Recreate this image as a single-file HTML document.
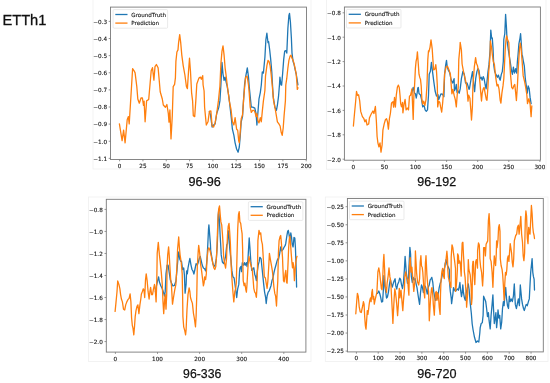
<!DOCTYPE html>
<html><head><meta charset="utf-8"><style>
html,body{margin:0;padding:0;background:#fff;}
body{width:550px;height:383px;overflow:hidden;position:relative;}
svg{position:absolute;left:0;top:0;filter:blur(0.3px);}
.tk{font-family:"DejaVu Sans",sans-serif;font-size:5.70px;fill:#111;stroke:#111;stroke-width:0.12px;}
.lg{font-family:"DejaVu Sans",sans-serif;font-size:5.60px;fill:#111;stroke:#111;stroke-width:0.1px;}
.cap{font-family:"Liberation Sans",sans-serif;font-size:13px;fill:#111;stroke:#111;stroke-width:0.25px;}
</style></head><body>
<svg width="550" height="383" viewBox="0 0 550 383">
<text x="2.4" y="25.4" textLength="44" lengthAdjust="spacingAndGlyphs" style="font-family:'Liberation Sans',sans-serif;font-size:15.2px;fill:#111;stroke:#111;stroke-width:0.3px">ETTh1</text>
<rect x="93" y="-2" width="218" height="171" fill="none" stroke="#efefef" stroke-width="0.8"/>
<clipPath id="c0"><rect x="110.5" y="7.1" width="196.0" height="152.4"/></clipPath>
<g clip-path="url(#c0)" fill="none" stroke-width="1.3" stroke-linejoin="round" stroke-linecap="round">
<polyline stroke="#1f77b4" points="209.4,111.4 210.5,115.0 212.1,127.0 213.6,125.0 215.1,124.0 216.7,113.5 218.8,107.2 219.9,100.9 220.9,85.0 222.0,62.5 223.0,74.0 224.1,80.3 225.1,77.2 226.2,82.4 227.2,86.3 228.9,96.7 230.3,109.3 231.4,118.7 232.4,129.2 233.9,135.4 235.1,142.8 236.6,149.0 238.1,152.2 239.3,147.0 240.2,136.5 241.2,121.8 242.5,116.6 243.5,100.9 244.6,84.2 245.6,77.2 247.3,67.8 248.5,77.0 249.2,86.3 251.3,107.2 252.7,107.2 254.8,108.2 256.1,114.0 256.9,125.0 258.0,111.4 259.0,98.8 260.3,92.6 261.3,85.0 262.3,72.0 263.4,73.0 264.9,57.3 265.9,39.5 266.9,33.2 268.0,42.7 268.6,41.6 269.7,50.0 270.7,59.4 271.8,72.0 272.2,80.0 273.2,96.7 274.9,107.2 276.4,110.3 277.4,105.1 278.5,96.7 279.5,84.2 279.9,77.2 281.0,85.0 281.6,85.2 282.6,74.0 283.7,59.4 284.7,51.0 285.8,50.6 286.8,53.1 287.9,28.0 288.9,15.5 289.5,13.4 290.4,21.7 291.4,38.5 292.0,53.1 293.1,61.5 294.1,64.6 295.2,69.9 296.2,74.0 297.2,80.0 297.9,84.8"/>
<polyline stroke="#ff7f0e" points="119.4,123.9 122.1,140.7 123.6,130.2 125.1,142.8 127.2,119.7 128.4,116.6 129.2,123.9 130.9,96.7 132.6,68.7 134.1,70.8 135.1,72.9 136.8,86.5 137.8,99.0 139.3,103.2 141.0,98.0 142.4,98.0 143.5,105.3 144.1,101.1 145.1,121.8 146.6,100.9 148.7,99.5 149.7,88.0 151.2,70.8 152.5,67.7 153.9,80.2 155.0,66.6 156.4,64.5 158.1,67.7 159.2,80.0 160.2,91.7 162.3,99.0 163.3,105.0 165.4,107.3 166.9,104.5 168.3,113.3 169.0,122.2 169.9,110.0 171.0,138.9 172.3,115.6 173.2,86.7 174.6,84.4 175.4,77.8 175.9,61.4 176.9,52.0 178.0,49.9 178.6,42.6 179.7,34.6 180.7,42.6 181.8,55.1 183.2,65.6 184.9,75.0 186.4,86.5 187.4,88.6 188.5,71.8 189.5,58.2 190.5,71.8 191.6,92.8 192.6,100.9 193.3,115.6 194.7,116.6 195.8,100.9 196.8,84.0 198.9,78.1 200.4,77.1 201.4,79.2 202.7,75.6 203.1,85.0 204.1,91.0 204.6,107.2 206.3,125.0 208.0,121.8 209.4,111.4 210.9,111.0 212.1,126.0 213.6,127.1 215.1,122.9 216.7,113.5 218.4,100.9 219.9,86.3 220.9,63.6 222.0,51.0 223.0,45.8 224.1,55.2 225.1,67.8 226.2,76.1 227.2,85.0 229.3,100.9 231.0,109.3 232.4,121.8 233.9,125.0 235.1,117.7 236.6,129.2 237.7,130.2 238.7,140.7 239.3,142.8 240.2,132.3 241.2,118.7 242.5,115.0 243.5,100.9 244.6,88.0 245.6,77.2 247.1,76.1 248.5,85.0 249.2,92.6 250.2,107.2 251.3,112.4 252.7,110.3 254.0,110.3 255.0,112.4 256.1,116.6 256.9,113.5 258.0,120.8 259.0,122.9 260.3,117.7 261.3,121.8 262.3,111.4 263.4,100.9 264.9,90.5 265.5,76.1 266.9,65.7 268.0,60.4 269.0,61.5 270.1,65.7 271.1,74.0 272.2,85.0 273.6,100.9 275.3,109.3 277.4,121.8 278.9,123.9 280.1,126.0 281.2,132.3 282.2,135.4 283.2,128.0 284.1,115.6 285.4,100.9 285.8,85.0 286.8,78.2 287.9,67.8 288.9,60.4 290.0,56.3 291.0,55.2 292.0,58.3 293.1,60.4 294.1,63.6 295.2,68.8 296.2,74.0 296.9,83.0 297.3,89.4 298.0,87.8"/>
</g>
<line x1="108.7" y1="21.40" x2="110.5" y2="21.40" stroke="#7a7a7a" stroke-width="0.8"/><text class="tk" x="107.00" y="23.70" text-anchor="end">−0.3</text>
<line x1="108.7" y1="38.52" x2="110.5" y2="38.52" stroke="#7a7a7a" stroke-width="0.8"/><text class="tk" x="107.00" y="40.82" text-anchor="end">−0.4</text>
<line x1="108.7" y1="55.64" x2="110.5" y2="55.64" stroke="#7a7a7a" stroke-width="0.8"/><text class="tk" x="107.00" y="57.94" text-anchor="end">−0.5</text>
<line x1="108.7" y1="72.76" x2="110.5" y2="72.76" stroke="#7a7a7a" stroke-width="0.8"/><text class="tk" x="107.00" y="75.06" text-anchor="end">−0.6</text>
<line x1="108.7" y1="89.88" x2="110.5" y2="89.88" stroke="#7a7a7a" stroke-width="0.8"/><text class="tk" x="107.00" y="92.18" text-anchor="end">−0.7</text>
<line x1="108.7" y1="107.00" x2="110.5" y2="107.00" stroke="#7a7a7a" stroke-width="0.8"/><text class="tk" x="107.00" y="109.30" text-anchor="end">−0.8</text>
<line x1="108.7" y1="124.12" x2="110.5" y2="124.12" stroke="#7a7a7a" stroke-width="0.8"/><text class="tk" x="107.00" y="126.42" text-anchor="end">−0.9</text>
<line x1="108.7" y1="141.24" x2="110.5" y2="141.24" stroke="#7a7a7a" stroke-width="0.8"/><text class="tk" x="107.00" y="143.54" text-anchor="end">−1.0</text>
<line x1="108.7" y1="158.36" x2="110.5" y2="158.36" stroke="#7a7a7a" stroke-width="0.8"/><text class="tk" x="107.00" y="160.66" text-anchor="end">−1.1</text>
<line x1="119.60" y1="159.5" x2="119.60" y2="161.3" stroke="#7a7a7a" stroke-width="0.8"/><text class="tk" x="119.60" y="168.00" text-anchor="middle">0</text>
<line x1="142.93" y1="159.5" x2="142.93" y2="161.3" stroke="#7a7a7a" stroke-width="0.8"/><text class="tk" x="142.93" y="168.00" text-anchor="middle">25</text>
<line x1="166.25" y1="159.5" x2="166.25" y2="161.3" stroke="#7a7a7a" stroke-width="0.8"/><text class="tk" x="166.25" y="168.00" text-anchor="middle">50</text>
<line x1="189.57" y1="159.5" x2="189.57" y2="161.3" stroke="#7a7a7a" stroke-width="0.8"/><text class="tk" x="189.57" y="168.00" text-anchor="middle">75</text>
<line x1="212.90" y1="159.5" x2="212.90" y2="161.3" stroke="#7a7a7a" stroke-width="0.8"/><text class="tk" x="212.90" y="168.00" text-anchor="middle">100</text>
<line x1="236.22" y1="159.5" x2="236.22" y2="161.3" stroke="#7a7a7a" stroke-width="0.8"/><text class="tk" x="236.22" y="168.00" text-anchor="middle">125</text>
<line x1="259.55" y1="159.5" x2="259.55" y2="161.3" stroke="#7a7a7a" stroke-width="0.8"/><text class="tk" x="259.55" y="168.00" text-anchor="middle">150</text>
<line x1="282.88" y1="159.5" x2="282.88" y2="161.3" stroke="#7a7a7a" stroke-width="0.8"/><text class="tk" x="282.88" y="168.00" text-anchor="middle">175</text>
<line x1="306.20" y1="159.5" x2="306.20" y2="161.3" stroke="#7a7a7a" stroke-width="0.8"/><text class="tk" x="306.20" y="168.00" text-anchor="middle">200</text>
<rect x="110.5" y="7.1" width="196.0" height="152.4" fill="none" stroke="#7a7a7a" stroke-width="0.9"/>
<rect x="113.1" y="9.6" width="54.5" height="18.6" rx="1" fill="#fff" fill-opacity="0.8" stroke="#dcdcdc" stroke-width="0.6"/>
<line x1="115.3" y1="14.5" x2="127.5" y2="14.5" stroke="#1f77b4" stroke-width="1.3"/><line x1="115.3" y1="23.1" x2="127.5" y2="23.1" stroke="#ff7f0e" stroke-width="1.3"/>
<text class="lg" x="131.29999999999998" y="16.6">GroundTruth</text><text class="lg" x="131.29999999999998" y="25.2">Prediction</text>
<text class="cap" x="188.40" y="185.7" textLength="32.3" lengthAdjust="spacingAndGlyphs">96-96</text>
<rect x="326.5" y="-2" width="219.5" height="171.2" fill="none" stroke="#efefef" stroke-width="0.8"/>
<clipPath id="c1"><rect x="344.4" y="7.0" width="196.0" height="153.2"/></clipPath>
<g clip-path="url(#c1)" fill="none" stroke-width="1.3" stroke-linejoin="round" stroke-linecap="round">
<polyline stroke="#1f77b4" points="411.7,93.2 413.2,87.4 414.6,93.2 415.4,93.8 416.3,98.0 417.3,92.0 417.8,87.9 418.3,87.4 419.0,93.5 420.5,95.0 421.6,99.6 422.7,106.9 424.1,105.5 425.1,109.9 426.3,111.3 427.5,109.9 428.5,95.2 429.2,74.2 430.4,71.3 431.4,62.5 432.5,71.3 433.6,80.1 435.1,91.0 436.5,96.0 438.0,94.7 438.7,99.6 439.8,96.7 440.9,94.0 442.4,94.2 443.9,96.7 444.6,74.2 445.6,65.5 446.5,60.4 447.2,66.9 448.2,69.9 449.7,72.8 451.2,80.1 452.6,83.0 454.1,78.6 454.4,90.8 455.3,88.9 455.6,87.9 456.3,84.5 457.0,92.3 457.7,90.3 459.2,93.2 460.2,88.9 461.4,78.6 462.9,71.3 464.3,74.2 465.5,83.0 467.0,83.0 468.0,85.9 469.0,89.4 469.4,88.9 470.9,80.1 472.4,72.0 472.6,71.6 473.6,83.0 474.6,91.7 475.7,78.7 476.9,71.6 477.9,68.7 478.9,70.1 480.1,78.7 481.2,77.3 482.2,80.2 483.2,76.6 484.1,78.7 485.1,84.5 486.1,88.8 487.0,81.6 488.0,71.6 489.0,64.4 490.1,50.0 490.8,30.1 491.6,38.0 492.3,38.0 493.0,48.1 493.7,64.4 494.7,71.6 495.9,74.4 497.3,77.3 498.4,75.1 499.5,78.7 500.2,80.2 501.3,74.4 502.3,71.6 503.3,61.5 503.8,39.5 504.8,33.7 505.6,14.3 506.4,26.6 507.1,40.9 508.1,48.1 509.1,55.0 510.2,61.5 511.4,70.1 512.4,74.4 513.4,67.2 514.5,73.0 515.7,68.7 516.7,73.0 517.4,61.5 518.1,54.3 518.9,43.8 520.0,38.0 520.6,33.7 521.4,45.2 522.0,55.3 522.4,55.7 523.4,61.5 524.3,65.8 525.3,78.7 526.3,85.9 527.2,93.1 528.2,85.9 529.2,88.8 530.1,97.4 531.1,103.6"/>
<polyline stroke="#ff7f0e" points="353.4,126.0 354.5,113.5 355.5,103.0 356.5,91.5 357.5,95.3 358.6,94.8 359.7,100.9 360.7,111.4 362.4,116.6 363.9,118.7 364.9,121.8 366.0,119.7 367.0,125.0 368.7,123.9 369.5,117.7 371.2,114.0 372.9,111.0 373.9,113.5 375.4,106.5 376.4,121.8 377.1,136.5 377.9,142.8 378.9,146.9 380.0,142.8 381.0,152.2 382.1,144.9 382.9,130.2 384.2,123.9 385.4,119.7 386.5,118.7 387.5,121.8 388.4,129.2 389.4,118.7 390.4,113.5 391.5,103.1 393.0,101.7 393.6,107.2 394.5,97.5 395.4,107.0 396.3,95.1 397.4,87.0 398.4,85.1 399.3,87.8 400.0,95.0 400.7,103.9 401.5,106.9 402.5,102.4 402.9,112.8 404.1,104.0 405.1,99.5 406.1,109.9 407.3,108.0 408.5,109.9 409.5,96.0 410.5,95.5 411.4,91.5 411.9,89.0 412.4,101.0 413.2,119.4 413.9,95.0 414.6,85.0 415.4,68.4 416.1,61.1 416.8,58.2 417.4,51.8 418.3,64.0 419.0,74.2 419.7,77.2 420.5,79.4 421.2,85.9 421.9,99.6 422.7,104.0 423.7,101.1 424.9,105.5 426.0,99.6 427.0,85.0 427.8,59.6 428.5,50.8 428.9,51.8 430.0,47.3 431.0,39.8 432.2,48.9 432.9,59.6 433.6,69.9 434.8,69.1 435.8,64.7 436.5,71.3 437.3,85.0 437.7,106.9 438.7,101.1 439.8,102.5 440.6,106.9 441.7,112.0 442.7,102.5 443.6,90.8 444.6,74.2 446.1,66.9 447.5,66.2 449.0,69.9 450.4,74.2 451.2,85.0 451.9,93.8 452.9,89.4 454.1,95.2 455.3,99.6 456.3,106.9 457.3,93.8 458.2,87.9 458.8,59.6 459.9,47.9 460.2,42.3 461.4,50.0 462.1,64.0 462.9,68.4 464.0,74.2 465.1,78.6 466.5,85.0 467.3,92.3 468.0,101.1 468.7,95.2 469.9,98.2 470.9,111.3 471.5,120.0 472.4,106.9 472.9,85.9 474.3,67.2 475.6,57.6 476.5,63.6 477.5,65.8 478.6,71.6 479.3,75.9 480.1,84.5 480.8,93.1 481.5,101.0 482.2,93.1 483.2,88.8 484.1,87.4 485.1,93.1 486.3,99.3 487.0,100.3 488.0,85.9 488.7,71.6 489.4,64.4 490.1,54.3 490.4,40.9 491.6,48.1 492.3,54.3 493.3,61.5 494.4,64.4 495.1,71.6 495.9,78.7 497.0,85.9 498.0,84.5 499.0,88.8 500.2,100.3 500.9,103.2 501.9,93.1 503.0,85.9 503.8,78.7 504.5,64.4 505.2,50.0 505.9,40.9 506.6,35.9 507.6,39.5 508.8,42.4 509.5,58.0 510.5,74.4 511.7,87.4 512.8,88.8 513.8,85.9 514.8,84.5 515.7,93.1 516.4,100.5 517.4,85.9 518.1,71.6 519.1,55.0 519.6,48.1 520.3,43.1 521.1,48.1 522.0,60.0 523.2,75.9 524.6,81.6 525.7,87.4 526.8,94.5 527.5,103.6 528.9,98.6 530.1,104.0 531.1,116.6 531.8,106.0"/>
</g>
<line x1="342.59999999999997" y1="12.80" x2="344.4" y2="12.80" stroke="#7a7a7a" stroke-width="0.8"/><text class="tk" x="340.90" y="15.10" text-anchor="end">−0.8</text>
<line x1="342.59999999999997" y1="37.20" x2="344.4" y2="37.20" stroke="#7a7a7a" stroke-width="0.8"/><text class="tk" x="340.90" y="39.50" text-anchor="end">−1.0</text>
<line x1="342.59999999999997" y1="61.60" x2="344.4" y2="61.60" stroke="#7a7a7a" stroke-width="0.8"/><text class="tk" x="340.90" y="63.90" text-anchor="end">−1.2</text>
<line x1="342.59999999999997" y1="86.00" x2="344.4" y2="86.00" stroke="#7a7a7a" stroke-width="0.8"/><text class="tk" x="340.90" y="88.30" text-anchor="end">−1.4</text>
<line x1="342.59999999999997" y1="110.40" x2="344.4" y2="110.40" stroke="#7a7a7a" stroke-width="0.8"/><text class="tk" x="340.90" y="112.70" text-anchor="end">−1.6</text>
<line x1="342.59999999999997" y1="134.80" x2="344.4" y2="134.80" stroke="#7a7a7a" stroke-width="0.8"/><text class="tk" x="340.90" y="137.10" text-anchor="end">−1.8</text>
<line x1="342.59999999999997" y1="159.20" x2="344.4" y2="159.20" stroke="#7a7a7a" stroke-width="0.8"/><text class="tk" x="340.90" y="161.50" text-anchor="end">−2.0</text>
<line x1="353.30" y1="160.2" x2="353.30" y2="162.0" stroke="#7a7a7a" stroke-width="0.8"/><text class="tk" x="353.30" y="168.70" text-anchor="middle">0</text>
<line x1="384.40" y1="160.2" x2="384.40" y2="162.0" stroke="#7a7a7a" stroke-width="0.8"/><text class="tk" x="384.40" y="168.70" text-anchor="middle">50</text>
<line x1="415.50" y1="160.2" x2="415.50" y2="162.0" stroke="#7a7a7a" stroke-width="0.8"/><text class="tk" x="415.50" y="168.70" text-anchor="middle">100</text>
<line x1="446.60" y1="160.2" x2="446.60" y2="162.0" stroke="#7a7a7a" stroke-width="0.8"/><text class="tk" x="446.60" y="168.70" text-anchor="middle">150</text>
<line x1="477.70" y1="160.2" x2="477.70" y2="162.0" stroke="#7a7a7a" stroke-width="0.8"/><text class="tk" x="477.70" y="168.70" text-anchor="middle">200</text>
<line x1="508.80" y1="160.2" x2="508.80" y2="162.0" stroke="#7a7a7a" stroke-width="0.8"/><text class="tk" x="508.80" y="168.70" text-anchor="middle">250</text>
<line x1="539.90" y1="160.2" x2="539.90" y2="162.0" stroke="#7a7a7a" stroke-width="0.8"/><text class="tk" x="539.90" y="168.70" text-anchor="middle">300</text>
<rect x="344.4" y="7.0" width="196.0" height="153.2" fill="none" stroke="#7a7a7a" stroke-width="0.9"/>
<rect x="346.5" y="9.4" width="54.5" height="18.6" rx="1" fill="#fff" fill-opacity="0.8" stroke="#dcdcdc" stroke-width="0.6"/>
<line x1="348.7" y1="14.3" x2="360.9" y2="14.3" stroke="#1f77b4" stroke-width="1.3"/><line x1="348.7" y1="22.9" x2="360.9" y2="22.9" stroke="#ff7f0e" stroke-width="1.3"/>
<text class="lg" x="364.7" y="16.4">GroundTruth</text><text class="lg" x="364.7" y="25.0">Prediction</text>
<text class="cap" x="417.20" y="185.7" textLength="38.9" lengthAdjust="spacingAndGlyphs">96-192</text>
<rect x="88.4" y="197" width="222.6" height="164.5" fill="none" stroke="#efefef" stroke-width="0.8"/>
<clipPath id="c2"><rect x="106.3" y="199.3" width="199.59999999999997" height="152.8"/></clipPath>
<g clip-path="url(#c2)" fill="none" stroke-width="1.3" stroke-linejoin="round" stroke-linecap="round">
<polyline stroke="#1f77b4" points="155.4,291.7 156.4,286.0 157.5,281.2 158.6,276.8 159.4,282.0 160.8,285.8 162.3,288.8 163.7,293.2 164.5,296.1 165.2,291.7 166.0,273.9 167.1,265.1 168.1,265.1 169.2,272.4 170.3,279.7 171.5,283.0 173.0,286.0 174.4,285.5 175.9,281.2 176.9,270.9 177.9,259.2 178.8,251.9 179.8,259.2 180.9,261.4 181.5,261.4 182.6,269.5 183.7,268.0 184.4,275.0 185.1,293.2 186.1,284.4 186.6,270.9 187.3,273.9 188.0,268.0 189.1,262.2 189.9,258.5 191.0,265.1 192.0,269.5 192.9,270.9 193.9,274.0 194.9,269.5 196.1,263.6 197.3,265.1 198.3,262.2 199.3,258.5 200.2,256.3 201.2,260.7 202.2,265.1 203.4,268.0 204.6,268.7 205.6,270.9 206.3,266.5 207.0,259.2 207.8,244.6 208.5,229.2 208.9,224.9 209.7,235.1 210.4,243.9 210.7,250.5 211.9,257.8 212.9,263.6 213.9,266.5 215.1,265.1 216.3,259.2 217.3,244.6 217.7,233.6 218.3,214.6 218.7,210.2 219.5,221.9 220.2,236.5 220.9,248.2 221.2,254.9 222.4,262.2 223.6,263.6 224.6,260.7 225.6,256.3 226.8,244.6 227.5,243.9 228.2,230.7 229.0,235.1 229.7,248.2 230.9,259.2 231.9,270.9 232.9,276.8 234.1,278.0 235.6,288.8 236.7,297.5 237.7,288.8 238.8,284.4 239.6,270.9 240.0,267.8 241.0,266.5 241.5,271.6 242.3,262.7 243.6,265.2 244.5,262.7 245.4,265.2 246.4,262.7 247.0,266.5 247.9,260.1 248.3,253.4 249.2,238.0 249.9,247.5 250.9,262.7 251.8,270.4 252.8,269.1 253.8,267.8 254.7,274.2 255.6,276.8 256.4,280.6 257.3,271.6 258.2,265.2 259.2,261.4 259.8,257.3 260.2,257.6 261.1,258.8 262.0,267.8 262.8,275.5 263.7,284.4 264.6,292.1 265.6,297.3 266.2,303.5 267.1,296.0 268.2,292.1 269.2,290.9 270.1,288.3 271.0,285.7 272.0,280.6 273.0,278.0 273.9,272.9 274.8,269.1 275.9,265.2 276.9,261.4 277.8,258.8 278.4,259.8 279.7,253.4 280.7,247.0 281.6,250.9 282.9,249.6 284.2,247.0 285.1,245.7 285.8,243.2 286.7,236.8 287.6,231.6 288.3,230.4 289.0,234.2 289.9,240.6 290.8,232.9 291.5,236.8 292.2,244.4 293.1,247.0 294.0,237.4 294.8,238.0 295.4,247.0 295.8,258.0 296.2,270.0 296.6,287.0"/>
<polyline stroke="#ff7f0e" points="115.1,311.4 115.9,303.4 117.0,291.7 117.7,281.0 118.9,284.4 119.9,288.8 120.6,294.6 121.4,299.0 122.4,301.9 123.5,309.2 124.7,310.0 125.7,304.9 126.8,301.9 127.9,299.7 129.1,298.3 130.1,293.9 130.9,301.9 131.6,318.0 132.3,325.3 133.0,328.2 133.8,334.8 134.5,326.8 135.2,316.5 136.0,310.7 137.0,306.3 137.9,304.9 138.9,313.6 139.9,304.9 140.8,299.0 141.4,293.9 142.3,291.7 143.3,288.8 144.0,290.2 144.7,297.5 145.5,280.0 146.2,273.9 147.2,281.2 148.1,291.7 149.1,299.0 149.9,291.7 150.6,287.3 151.6,294.6 152.5,294.6 153.5,288.8 154.5,284.4 155.4,291.7 156.1,301.9 156.8,280.0 157.2,253.4 158.3,242.4 159.4,254.9 160.1,260.7 161.3,272.4 162.3,285.0 163.0,301.9 163.7,313.6 164.5,301.9 165.2,294.6 166.0,309.2 166.7,294.6 167.1,266.5 167.7,254.9 168.6,246.8 169.2,254.9 169.9,266.5 170.6,278.2 171.5,286.0 171.8,291.7 172.5,304.1 173.5,297.5 174.7,290.2 175.9,284.4 176.9,266.5 177.6,249.0 178.7,237.0 179.4,247.5 180.1,255.0 181.2,262.2 182.2,273.9 182.6,294.6 182.9,316.5 183.7,326.8 184.7,330.4 185.6,334.8 186.1,329.7 187.0,309.2 188.0,294.6 189.1,288.0 189.9,291.7 190.5,297.5 191.4,300.5 192.4,303.4 193.5,313.6 194.3,318.0 194.9,322.4 195.5,326.8 196.1,316.5 196.8,294.6 197.3,266.5 198.3,250.0 198.7,245.3 199.7,253.4 200.5,263.6 201.6,270.9 202.7,280.0 203.4,285.8 204.1,282.9 204.6,276.8 205.6,279.7 206.3,273.9 207.0,259.2 208.1,249.5 208.9,247.8 210.0,250.4 211.0,254.9 211.9,259.2 212.9,263.6 213.9,268.0 214.8,269.5 215.8,266.5 216.8,251.9 217.3,236.5 218.0,217.5 218.7,208.8 219.5,205.8 220.2,214.6 220.9,221.9 221.7,224.9 222.4,233.6 223.1,243.9 223.6,256.3 224.6,263.6 225.6,268.0 226.5,259.2 227.5,235.0 228.2,226.3 229.0,223.4 229.7,232.2 230.4,243.9 231.2,266.5 231.9,278.2 232.9,291.7 233.8,301.9 234.8,291.7 235.6,288.8 236.3,282.9 237.0,256.0 237.7,229.2 238.5,214.6 239.2,211.7 239.9,221.9 240.7,223.4 241.4,229.2 242.1,233.6 242.6,248.3 243.2,280.6 244.1,285.7 244.9,283.2 245.8,289.6 246.4,292.1 247.0,284.4 247.7,271.6 248.3,262.7 249.0,256.5 250.2,262.7 251.3,266.5 252.2,269.1 253.1,279.3 253.8,288.3 254.7,292.1 255.6,293.4 256.1,296.5 256.4,297.3 257.0,287.0 257.5,267.8 257.9,240.6 259.0,230.4 259.8,234.2 260.7,232.9 261.5,240.6 262.4,244.4 263.0,253.4 263.7,265.2 264.3,276.8 265.4,278.0 266.2,283.2 267.1,288.3 267.9,280.6 268.8,265.2 269.4,253.4 270.5,260.1 271.4,265.2 272.3,270.4 273.0,276.8 273.9,287.0 274.8,293.4 275.6,296.0 276.5,306.0 277.1,293.4 277.8,280.6 278.4,253.4 279.1,240.6 280.0,236.8 280.7,235.5 281.2,240.6 282.0,250.9 282.5,257.3 282.9,267.8 283.5,280.6 284.2,281.9 285.1,274.2 285.8,270.4 286.5,281.9 287.1,283.2 288.0,264.0 288.7,247.0 289.3,239.3 289.9,236.1 290.6,244.4 291.2,253.4 291.9,262.0 292.5,267.8 293.1,262.7 293.8,267.8 294.4,280.6 295.1,270.4 295.7,262.7 296.6,257.6 297.0,256.3"/>
</g>
<line x1="104.5" y1="209.40" x2="106.3" y2="209.40" stroke="#7a7a7a" stroke-width="0.8"/><text class="tk" x="102.80" y="211.70" text-anchor="end">−0.8</text>
<line x1="104.5" y1="231.43" x2="106.3" y2="231.43" stroke="#7a7a7a" stroke-width="0.8"/><text class="tk" x="102.80" y="233.73" text-anchor="end">−1.0</text>
<line x1="104.5" y1="253.46" x2="106.3" y2="253.46" stroke="#7a7a7a" stroke-width="0.8"/><text class="tk" x="102.80" y="255.76" text-anchor="end">−1.2</text>
<line x1="104.5" y1="275.49" x2="106.3" y2="275.49" stroke="#7a7a7a" stroke-width="0.8"/><text class="tk" x="102.80" y="277.79" text-anchor="end">−1.4</text>
<line x1="104.5" y1="297.52" x2="106.3" y2="297.52" stroke="#7a7a7a" stroke-width="0.8"/><text class="tk" x="102.80" y="299.82" text-anchor="end">−1.6</text>
<line x1="104.5" y1="319.55" x2="106.3" y2="319.55" stroke="#7a7a7a" stroke-width="0.8"/><text class="tk" x="102.80" y="321.85" text-anchor="end">−1.8</text>
<line x1="104.5" y1="341.58" x2="106.3" y2="341.58" stroke="#7a7a7a" stroke-width="0.8"/><text class="tk" x="102.80" y="343.88" text-anchor="end">−2.0</text>
<line x1="115.40" y1="352.1" x2="115.40" y2="353.90000000000003" stroke="#7a7a7a" stroke-width="0.8"/><text class="tk" x="115.40" y="360.60" text-anchor="middle">0</text>
<line x1="157.50" y1="352.1" x2="157.50" y2="353.90000000000003" stroke="#7a7a7a" stroke-width="0.8"/><text class="tk" x="157.50" y="360.60" text-anchor="middle">100</text>
<line x1="199.60" y1="352.1" x2="199.60" y2="353.90000000000003" stroke="#7a7a7a" stroke-width="0.8"/><text class="tk" x="199.60" y="360.60" text-anchor="middle">200</text>
<line x1="241.70" y1="352.1" x2="241.70" y2="353.90000000000003" stroke="#7a7a7a" stroke-width="0.8"/><text class="tk" x="241.70" y="360.60" text-anchor="middle">300</text>
<line x1="283.80" y1="352.1" x2="283.80" y2="353.90000000000003" stroke="#7a7a7a" stroke-width="0.8"/><text class="tk" x="283.80" y="360.60" text-anchor="middle">400</text>
<rect x="106.3" y="199.3" width="199.59999999999997" height="152.8" fill="none" stroke="#7a7a7a" stroke-width="0.9"/>
<rect x="248.4" y="201.8" width="54.5" height="18.6" rx="1" fill="#fff" fill-opacity="0.8" stroke="#dcdcdc" stroke-width="0.6"/>
<line x1="250.6" y1="206.70000000000002" x2="262.8" y2="206.70000000000002" stroke="#1f77b4" stroke-width="1.3"/><line x1="250.6" y1="215.3" x2="262.8" y2="215.3" stroke="#ff7f0e" stroke-width="1.3"/>
<text class="lg" x="266.6" y="208.8">GroundTruth</text><text class="lg" x="266.6" y="217.4">Prediction</text>
<text class="cap" x="183.10" y="377.5" textLength="38.2" lengthAdjust="spacingAndGlyphs">96-336</text>
<rect x="325.3" y="197" width="222.7" height="164.5" fill="none" stroke="#efefef" stroke-width="0.8"/>
<clipPath id="c3"><rect x="347.4" y="198.5" width="195.89999999999998" height="153.39999999999998"/></clipPath>
<g clip-path="url(#c3)" fill="none" stroke-width="1.3" stroke-linejoin="round" stroke-linecap="round">
<polyline stroke="#1f77b4" points="377.5,293.5 378.8,291.0 379.7,293.5 380.7,297.4 381.6,302.0 382.6,301.6 383.5,288.0 383.9,275.6 384.6,283.3 385.6,291.0 386.5,298.0 387.4,297.0 388.4,292.3 389.4,284.6 390.3,279.4 391.2,283.3 392.3,287.1 393.3,283.3 394.2,280.7 395.1,278.8 395.8,285.9 396.7,289.0 397.6,284.6 398.7,282.0 399.7,278.2 400.6,279.4 401.5,284.6 402.5,288.5 403.5,282.0 404.4,269.2 405.1,256.4 405.7,264.1 406.3,273.0 407.4,283.3 408.3,278.2 409.2,262.8 409.9,247.4 410.6,254.4 410.8,262.8 411.3,276.1 412.3,282.5 413.2,277.4 414.1,279.9 415.1,278.6 416.1,283.8 417.0,287.6 417.9,294.0 418.7,299.1 419.6,304.3 420.5,292.7 421.5,285.0 422.5,287.6 423.4,292.7 424.3,287.6 425.4,286.3 426.4,290.2 427.3,294.0 428.2,287.6 429.2,285.0 430.2,279.9 431.1,278.6 431.8,277.4 432.8,282.5 433.7,291.4 434.6,296.6 435.4,300.4 436.2,297.9 437.1,299.1 438.2,294.0 439.2,287.6 440.1,283.8 441.0,281.2 442.0,276.1 443.0,272.2 443.9,269.7 444.8,267.1 445.2,263.4 446.1,259.6 447.1,264.7 448.4,267.3 449.4,270.0 449.4,281.2 450.3,291.4 451.2,297.9 451.6,303.6 452.9,294.0 453.5,287.6 454.6,290.2 455.5,291.4 456.4,290.2 457.4,288.9 458.4,290.2 459.3,286.3 459.9,282.5 460.6,290.2 461.5,296.6 462.2,292.7 462.8,285.0 463.5,292.7 464.4,297.9 465.3,300.4 466.3,292.7 467.4,287.6 468.3,283.8 469.2,290.2 470.2,303.0 471.3,313.0 472.2,324.0 473.1,330.0 474.5,337.3 476.0,342.5 477.4,341.0 478.8,342.0 479.8,333.0 480.2,327.6 481.2,323.5 482.3,322.8 483.1,315.3 483.6,296.2 484.7,298.9 485.7,301.6 486.6,308.5 487.5,316.6 488.4,312.6 489.1,320.7 490.2,328.9 491.1,315.3 492.1,304.4 492.9,294.8 493.5,308.5 494.3,323.5 495.2,318.0 495.9,312.6 496.6,327.6 497.3,320.7 498.0,309.8 498.9,318.0 499.7,315.3 500.7,328.9 501.7,322.1 502.5,308.5 503.4,301.6 504.1,305.7 504.8,296.2 505.7,287.5 506.6,298.9 507.5,305.7 508.5,308.5 509.3,296.2 510.2,301.6 511.2,298.9 512.3,301.6 513.4,296.2 514.3,284.0 515.3,304.4 516.4,308.5 517.5,303.0 518.4,298.9 519.4,305.7 520.3,285.0 521.6,298.9 522.5,304.4 523.5,308.5 524.3,310.5 525.3,307.1 526.2,304.4 527.3,305.7 528.4,301.6 529.3,298.9 530.0,285.0 530.7,272.3 531.4,265.5 532.1,258.6 532.8,272.3 533.4,276.4 534.1,279.1 534.5,290.0"/>
<polyline stroke="#ff7f0e" points="355.8,313.8 356.7,301.6 357.4,293.3 358.3,296.5 359.2,306.8 360.2,311.9 361.3,312.5 362.2,308.0 362.8,305.5 363.4,301.6 364.1,304.2 364.7,317.0 365.4,326.0 366.0,329.2 366.6,320.9 367.3,310.6 367.9,314.4 368.6,309.3 369.2,304.2 369.8,300.4 370.5,297.8 371.1,301.6 371.8,292.7 372.4,289.5 373.0,299.1 373.7,296.5 374.3,304.2 375.0,300.4 375.6,297.8 376.2,295.2 376.9,292.3 377.9,271.8 378.8,267.9 379.7,273.0 380.5,280.7 381.4,288.6 382.0,289.7 382.7,279.4 383.3,262.8 383.9,254.5 384.6,269.2 385.2,285.9 385.9,288.6 386.5,292.3 387.1,283.3 388.2,275.6 389.0,267.9 389.9,276.9 390.7,280.7 391.6,297.8 392.3,310.6 392.9,323.4 393.5,310.6 394.2,297.8 394.8,288.8 395.5,292.7 396.1,297.8 396.7,304.2 397.6,315.7 398.4,304.2 398.9,292.7 399.3,288.4 399.9,297.8 401.0,290.1 401.9,300.4 402.8,310.6 403.5,300.4 404.4,290.1 404.8,276.9 405.7,271.8 406.6,277.5 407.6,279.4 408.6,292.3 408.9,295.2 409.5,265.4 410.2,257.7 411.0,272.2 411.9,267.1 412.8,278.6 413.8,291.4 414.9,281.2 415.4,251.0 416.1,263.4 416.6,273.0 417.6,282.0 418.7,285.0 419.6,278.6 420.2,262.1 420.9,255.7 421.5,266.0 422.2,267.3 422.8,272.2 423.4,281.2 424.1,292.7 424.7,297.9 425.4,263.4 426.0,255.7 426.9,274.8 427.7,285.0 428.6,291.4 429.3,320.8 430.5,299.1 431.5,288.9 432.0,287.6 432.8,295.3 433.3,304.3 434.3,315.1 435.0,300.4 435.6,292.7 436.2,291.4 436.9,300.4 437.5,292.7 438.4,295.3 439.2,306.8 440.1,314.4 440.5,294.0 441.0,281.2 441.8,272.2 442.6,268.5 443.5,276.1 444.3,278.6 444.6,267.3 445.9,260.9 446.9,251.2 447.5,258.3 447.8,269.7 448.4,277.4 449.1,279.9 449.7,282.5 450.3,285.0 451.0,287.6 451.2,257.0 452.0,244.8 452.9,248.0 453.5,253.2 454.6,260.9 455.5,268.5 455.5,291.4 456.1,287.6 456.7,281.2 457.4,269.7 457.6,253.8 458.4,255.7 458.9,263.4 459.7,260.9 460.3,263.4 461.2,276.1 461.6,257.0 462.2,242.9 462.9,242.3 463.5,255.7 464.0,263.4 464.4,272.2 465.1,277.4 465.7,287.6 466.3,297.9 466.6,307.2 467.6,294.0 468.3,259.6 468.9,269.7 470.2,274.8 471.2,287.6 471.5,304.5 472.1,297.9 472.5,266.0 473.0,261.4 473.4,261.5 473.8,272.3 474.8,284.6 475.6,262.1 476.3,259.6 476.5,260.0 477.5,268.2 477.6,250.6 478.5,242.9 479.3,245.0 479.8,258.6 480.6,266.8 481.6,272.3 482.6,285.9 483.4,272.3 483.6,247.7 484.7,247.7 485.4,255.9 486.1,244.3 487.7,240.9 488.4,220.5 489.1,213.6 489.8,227.3 490.2,258.6 491.1,261.4 492.1,272.3 492.9,287.3 493.5,272.3 494.3,255.9 495.0,261.4 495.6,265.5 496.3,253.2 496.6,240.9 497.0,247.7 498.0,240.0 498.6,227.3 499.3,224.6 500.0,231.4 500.3,258.6 501.1,265.5 502.1,269.6 502.7,275.0 503.4,285.9 504.1,300.0 504.8,283.2 505.5,272.3 506.2,275.0 506.8,269.6 507.5,258.6 508.2,255.9 508.9,261.4 509.6,251.8 510.2,243.7 511.6,253.2 512.3,262.7 513.0,266.8 513.7,258.6 514.3,240.9 515.7,235.5 516.7,234.1 517.5,227.3 518.4,225.2 519.1,234.1 519.8,227.3 520.8,216.4 521.6,234.1 522.5,242.3 523.2,255.9 523.9,260.7 524.6,253.2 525.3,220.5 525.9,210.9 526.6,216.4 527.3,238.2 528.0,243.7 528.7,227.3 529.3,232.7 530.0,234.1 530.7,220.5 531.4,205.5 532.1,213.6 532.8,227.3 533.4,232.7 534.1,235.5 534.5,238.5"/>
</g>
<line x1="345.59999999999997" y1="206.70" x2="347.4" y2="206.70" stroke="#7a7a7a" stroke-width="0.8"/><text class="tk" x="343.90" y="209.00" text-anchor="end">−0.25</text>
<line x1="345.59999999999997" y1="224.75" x2="347.4" y2="224.75" stroke="#7a7a7a" stroke-width="0.8"/><text class="tk" x="343.90" y="227.05" text-anchor="end">−0.50</text>
<line x1="345.59999999999997" y1="242.80" x2="347.4" y2="242.80" stroke="#7a7a7a" stroke-width="0.8"/><text class="tk" x="343.90" y="245.10" text-anchor="end">−0.75</text>
<line x1="345.59999999999997" y1="260.85" x2="347.4" y2="260.85" stroke="#7a7a7a" stroke-width="0.8"/><text class="tk" x="343.90" y="263.15" text-anchor="end">−1.00</text>
<line x1="345.59999999999997" y1="278.90" x2="347.4" y2="278.90" stroke="#7a7a7a" stroke-width="0.8"/><text class="tk" x="343.90" y="281.20" text-anchor="end">−1.25</text>
<line x1="345.59999999999997" y1="296.95" x2="347.4" y2="296.95" stroke="#7a7a7a" stroke-width="0.8"/><text class="tk" x="343.90" y="299.25" text-anchor="end">−1.50</text>
<line x1="345.59999999999997" y1="315.00" x2="347.4" y2="315.00" stroke="#7a7a7a" stroke-width="0.8"/><text class="tk" x="343.90" y="317.30" text-anchor="end">−1.75</text>
<line x1="345.59999999999997" y1="333.05" x2="347.4" y2="333.05" stroke="#7a7a7a" stroke-width="0.8"/><text class="tk" x="343.90" y="335.35" text-anchor="end">−2.00</text>
<line x1="345.59999999999997" y1="351.10" x2="347.4" y2="351.10" stroke="#7a7a7a" stroke-width="0.8"/><text class="tk" x="343.90" y="353.40" text-anchor="end">−2.25</text>
<line x1="356.40" y1="351.9" x2="356.40" y2="353.7" stroke="#7a7a7a" stroke-width="0.8"/><text class="tk" x="356.40" y="360.40" text-anchor="middle">0</text>
<line x1="378.23" y1="351.9" x2="378.23" y2="353.7" stroke="#7a7a7a" stroke-width="0.8"/><text class="tk" x="378.23" y="360.40" text-anchor="middle">100</text>
<line x1="400.06" y1="351.9" x2="400.06" y2="353.7" stroke="#7a7a7a" stroke-width="0.8"/><text class="tk" x="400.06" y="360.40" text-anchor="middle">200</text>
<line x1="421.89" y1="351.9" x2="421.89" y2="353.7" stroke="#7a7a7a" stroke-width="0.8"/><text class="tk" x="421.89" y="360.40" text-anchor="middle">300</text>
<line x1="443.72" y1="351.9" x2="443.72" y2="353.7" stroke="#7a7a7a" stroke-width="0.8"/><text class="tk" x="443.72" y="360.40" text-anchor="middle">400</text>
<line x1="465.55" y1="351.9" x2="465.55" y2="353.7" stroke="#7a7a7a" stroke-width="0.8"/><text class="tk" x="465.55" y="360.40" text-anchor="middle">500</text>
<line x1="487.38" y1="351.9" x2="487.38" y2="353.7" stroke="#7a7a7a" stroke-width="0.8"/><text class="tk" x="487.38" y="360.40" text-anchor="middle">600</text>
<line x1="509.21" y1="351.9" x2="509.21" y2="353.7" stroke="#7a7a7a" stroke-width="0.8"/><text class="tk" x="509.21" y="360.40" text-anchor="middle">700</text>
<line x1="531.04" y1="351.9" x2="531.04" y2="353.7" stroke="#7a7a7a" stroke-width="0.8"/><text class="tk" x="531.04" y="360.40" text-anchor="middle">800</text>
<rect x="347.4" y="198.5" width="195.89999999999998" height="153.39999999999998" fill="none" stroke="#7a7a7a" stroke-width="0.9"/>
<rect x="349.5" y="201.1" width="54.5" height="18.6" rx="1" fill="#fff" fill-opacity="0.8" stroke="#dcdcdc" stroke-width="0.6"/>
<line x1="351.7" y1="206.0" x2="363.9" y2="206.0" stroke="#1f77b4" stroke-width="1.3"/><line x1="351.7" y1="214.6" x2="363.9" y2="214.6" stroke="#ff7f0e" stroke-width="1.3"/>
<text class="lg" x="367.7" y="208.1">GroundTruth</text><text class="lg" x="367.7" y="216.7">Prediction</text>
<text class="cap" x="417.20" y="377.5" textLength="39.3" lengthAdjust="spacingAndGlyphs">96-720</text>
</svg>
</body></html>
